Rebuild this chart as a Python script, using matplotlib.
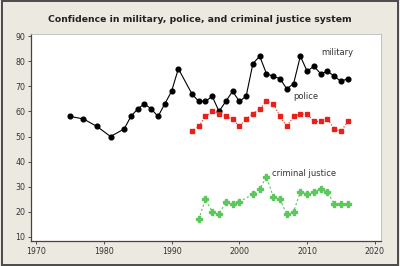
import matplotlib
matplotlib.use("Agg")
import matplotlib.pyplot as plt
from matplotlib.patches import Rectangle

# military confidence (%)
mil_years = [1975, 1977, 1979, 1981, 1983, 1984, 1985, 1986, 1987, 1988, 1989,
             1990, 1991, 1993, 1994, 1995, 1996, 1997, 1998, 1999, 2000, 2001,
             2002, 2003, 2004, 2005, 2006, 2007, 2008, 2009, 2010, 2011, 2012,
             2013, 2014, 2015, 2016]
mil_vals = [58, 57, 54, 50, 53, 58, 61, 63, 61, 58, 63,
            68, 77, 67, 64, 64, 66, 60, 64, 68, 64, 66,
            79, 82, 75, 74, 73, 69, 71, 82, 76, 78, 75,
            76, 74, 72, 73]

# police
pol_years = [1993, 1994, 1995, 1996, 1997, 1998, 1999, 2000, 2001, 2002, 2003,
             2004, 2005, 2006, 2007, 2008, 2009, 2010, 2011, 2012, 2013, 2014,
             2015, 2016]
pol_vals = [52, 54, 58, 60, 59, 58, 57, 54, 57, 59, 61,
            64, 63, 58, 54, 58, 59, 59, 56, 56, 57, 53,
            52, 56]

# criminal justice system
cj_years = [1994, 1995, 1996, 1997, 1998, 1999, 2000, 2002, 2003, 2004, 2005,
            2006, 2007, 2008, 2009, 2010, 2011, 2012, 2013, 2014, 2015, 2016]
cj_vals = [17, 25, 20, 19, 24, 23, 24, 27, 29, 34, 26,
           25, 19, 20, 28, 27, 28, 29, 28, 23, 23, 23]

x_ticks = [1970, 1980, 1990, 2000, 2010, 2020]
y_ticks = [10, 20, 30, 40, 50, 60, 70, 80, 90]

bg = "#ece9e1"
txt = "#333333"

fig = plt.figure(figsize=(4, 2.66), dpi=100, facecolor=bg)
ax = fig.add_axes([0.0775, 0.094, 0.875, 0.778])
ax.set_facecolor("white")

ax.plot(mil_years, mil_vals, color="black", lw=0.8, marker="o", ms=3.4,
        mec="black", mfc="black")
ax.plot(pol_years, pol_vals, color="#e8201a", lw=0.8, ls=":", marker="s",
        ms=3.2, mec="#e8201a", mfc="#e8201a")
ax.plot(cj_years, cj_vals, color="#5cc85c", lw=0.8, ls=(0, (2, 2)), marker="P",
        ms=3.7, mec="#5cc85c", mfc="#5cc85c")

ax.text(2012.1, 83.4, "military", fontsize=6, color=txt, va="center")
ax.text(2008.0, 65.8, "police", fontsize=6, color=txt, va="center")
ax.text(2004.8, 35.3, "criminal justice", fontsize=6, color=txt, va="center")

ax.set_xlim(1969.26, 2020.9)
ax.set_ylim(8.4, 90.8)
ax.set_xticks(x_ticks)
ax.set_yticks(y_ticks)
ax.tick_params(labelsize=5.7, colors=txt, length=2, width=0.6, pad=2)

for side in ("left", "bottom"):
    ax.spines[side].set_color("#444444")
    ax.spines[side].set_linewidth(0.9)
for side in ("top", "right"):
    ax.spines[side].set_color("#bbbbbb")
    ax.spines[side].set_linewidth(0.6)

fig.text(0.5, 0.928, "Confidence in military, police, and criminal justice system",
         ha="center", va="center", fontsize=6.7, fontweight="bold", color="#222222")

fig.patches.append(Rectangle((0.004, 0.004), 0.992, 0.992, transform=fig.transFigure,
                             fill=False, edgecolor="#4a4a4a", lw=1.4))

fig.savefig("out.png", dpi=100, facecolor=bg)
